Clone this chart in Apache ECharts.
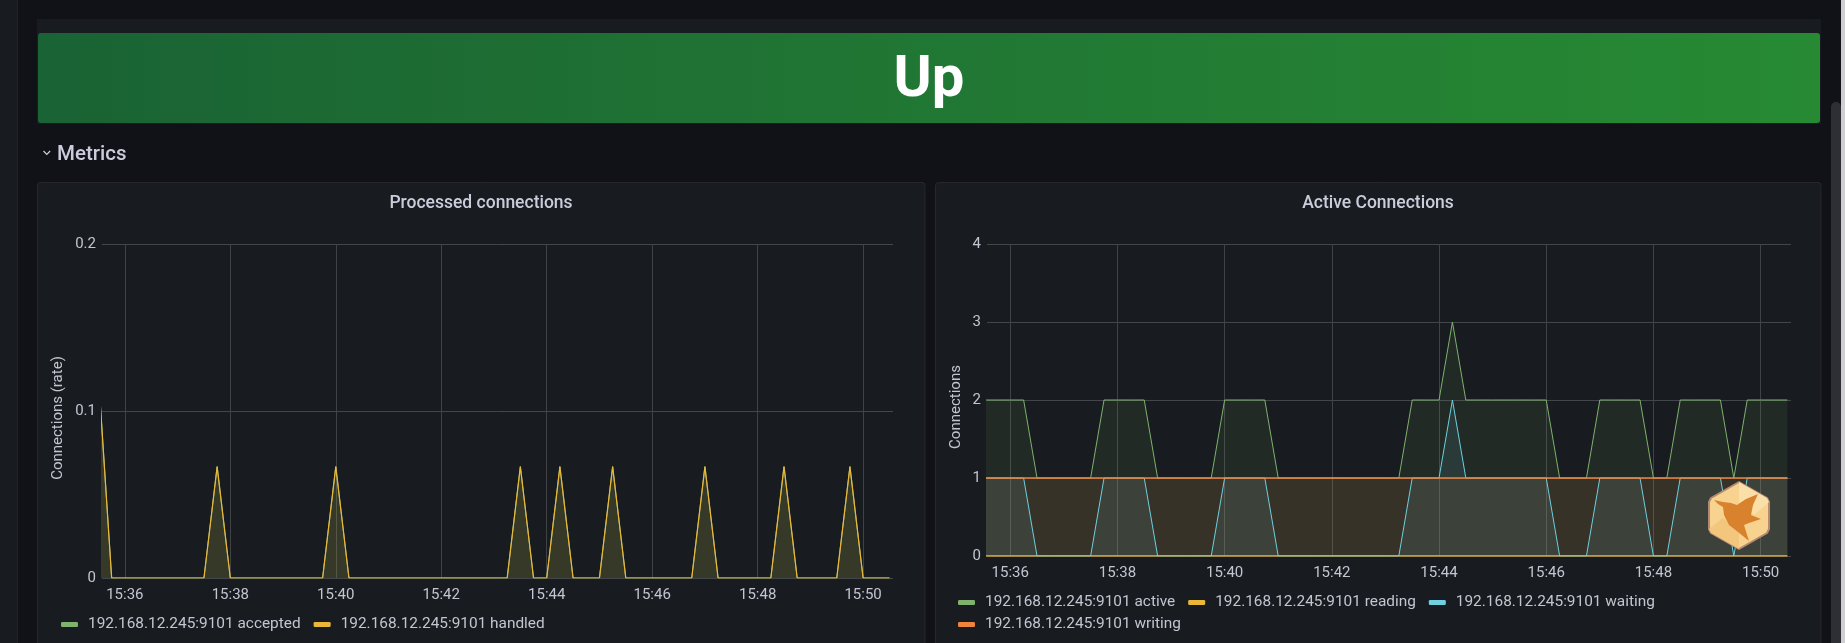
<!DOCTYPE html>
<html>
<head>
<meta charset="utf-8">
<title>Nginx connections</title>
<script src="https://cdn.jsdelivr.net/npm/echarts@6/dist/echarts.min.js"></script>
<style>
html, body { margin: 0; padding: 0; background: #111217; overflow: hidden; }
#main { width: 1845px; height: 643px; }
</style>
</head>
<body>
<div id="main"></div>
<script>
// sample times, one every 15s
var times = [
	"15:35:30", "15:35:45", "15:36:00", "15:36:15", "15:36:30", "15:36:45", "15:37:00", "15:37:15", "15:37:30", "15:37:45",
	"15:38:00", "15:38:15", "15:38:30", "15:38:45", "15:39:00", "15:39:15", "15:39:30", "15:39:45", "15:40:00", "15:40:15",
	"15:40:30", "15:40:45", "15:41:00", "15:41:15", "15:41:30", "15:41:45", "15:42:00", "15:42:15", "15:42:30", "15:42:45",
	"15:43:00", "15:43:15", "15:43:30", "15:43:45", "15:44:00", "15:44:15", "15:44:30", "15:44:45", "15:45:00", "15:45:15",
	"15:45:30", "15:45:45", "15:46:00", "15:46:15", "15:46:30", "15:46:45", "15:47:00", "15:47:15", "15:47:30", "15:47:45",
	"15:48:00", "15:48:15", "15:48:30", "15:48:45", "15:49:00", "15:49:15", "15:49:30", "15:49:45", "15:50:00", "15:50:15",
	"15:50:30"
];
var tickLabels = ["15:36", "15:38", "15:40", "15:42", "15:44", "15:46", "15:48", "15:50"];

// Processed connections
var accepted = [
	0.121, 0, 0, 0, 0, 0, 0, 0, 0, 0.0667,
	0, 0, 0, 0, 0, 0, 0, 0, 0.0667, 0,
	0, 0, 0, 0, 0, 0, 0, 0, 0, 0,
	0, 0, 0.0667, 0, 0, 0.0667, 0, 0, 0, 0.0667,
	0, 0, 0, 0, 0, 0, 0.0667, 0, 0, 0,
	0, 0, 0.0667, 0, 0, 0, 0, 0.0667, 0, 0,
	0
];
var handled = [
	0.121, 0, 0, 0, 0, 0, 0, 0, 0, 0.0667,
	0, 0, 0, 0, 0, 0, 0, 0, 0.0667, 0,
	0, 0, 0, 0, 0, 0, 0, 0, 0, 0,
	0, 0, 0.0667, 0, 0, 0.0667, 0, 0, 0, 0.0667,
	0, 0, 0, 0, 0, 0, 0.0667, 0, 0, 0,
	0, 0, 0.0667, 0, 0, 0, 0, 0.0667, 0, 0,
	0
];

// Active Connections
var active = [
	2, 2, 2, 2, 1, 1, 1, 1, 1, 2,
	2, 2, 2, 1, 1, 1, 1, 1, 2, 2,
	2, 2, 1, 1, 1, 1, 1, 1, 1, 1,
	1, 1, 2, 2, 2, 3, 2, 2, 2, 2,
	2, 2, 2, 1, 1, 1, 2, 2, 2, 2,
	1, 1, 2, 2, 2, 2, 1, 2, 2, 2,
	2
];
var reading = [
	0, 0, 0, 0, 0, 0, 0, 0, 0, 0,
	0, 0, 0, 0, 0, 0, 0, 0, 0, 0,
	0, 0, 0, 0, 0, 0, 0, 0, 0, 0,
	0, 0, 0, 0, 0, 0, 0, 0, 0, 0,
	0, 0, 0, 0, 0, 0, 0, 0, 0, 0,
	0, 0, 0, 0, 0, 0, 0, 0, 0, 0,
	0
];
var waiting = [
	1, 1, 1, 1, 0, 0, 0, 0, 0, 1,
	1, 1, 1, 0, 0, 0, 0, 0, 1, 1,
	1, 1, 0, 0, 0, 0, 0, 0, 0, 0,
	0, 0, 1, 1, 1, 2, 1, 1, 1, 1,
	1, 1, 1, 0, 0, 0, 1, 1, 1, 1,
	0, 0, 1, 1, 1, 1, 0, 1, 1, 1,
	1
];
var writing = [
	1, 1, 1, 1, 1, 1, 1, 1, 1, 1,
	1, 1, 1, 1, 1, 1, 1, 1, 1, 1,
	1, 1, 1, 1, 1, 1, 1, 1, 1, 1,
	1, 1, 1, 1, 1, 1, 1, 1, 1, 1,
	1, 1, 1, 1, 1, 1, 1, 1, 1, 1,
	1, 1, 1, 1, 1, 1, 1, 1, 1, 1,
	1
];

var GREEN = "#7EB26D", YELLOW = "#EAB839", CYAN = "#6ED0E0", ORANGE = "#EF843C";
var TEXT = "#c4c5d1", GRID_V = "#404246", GRID_H = "#43464b", PANEL = "#181b1f", BORDER = "#25272c";
var FONT = "Roboto";

function toSeconds(t) {
	var p = t.split(":");
	return p[0] * 3600 + p[1] * 60 + (p[2] ? +p[2] : 0);
}
function fromSeconds(s) {
	var h = Math.floor(s / 3600), m = Math.round((s - h * 3600) / 60);
	return h + ":" + (m < 10 ? "0" : "") + m;
}
var tickValues = tickLabels.map(toSeconds);
var X_MIN = toSeconds("15:35:34"), X_MAX = toSeconds("15:50:34");

function pairs(values) {
	return values.map(function(v, i) {
		return [toSeconds(times[i]), v];
	});
}

function lineSeries(name, values, color, idx, width) {
	return {
		name: name,
		type: "line",
		xAxisIndex: idx,
		yAxisIndex: idx,
		showSymbol: false,
		symbol: "none",
		animation: false,
		itemStyle: { color: color },
		lineStyle: { color: color, width: width || 1 },
		areaStyle: { color: color, opacity: 0.1 },
		data: pairs(values)
	};
}

function xAxis(idx) {
	return {
		type: "value",
		gridIndex: idx,
		min: X_MIN,
		max: X_MAX,
		axisLine: { show: false },
		axisTick: { show: false, customValues: tickValues },
		splitLine: { show: true, lineStyle: { color: GRID_V, width: 1 } },
		axisLabel: {
			customValues: tickValues,
			color: TEXT,
			fontFamily: FONT,
			fontSize: 15,
			margin: 10,
			formatter: fromSeconds
		}
	};
}

function yAxis(idx, max, interval, name, gap) {
	return {
		type: "value",
		gridIndex: idx,
		min: 0,
		max: max,
		interval: interval,
		name: name,
		nameLocation: "middle",
		nameGap: gap,
		nameTextStyle: { color: TEXT, fontFamily: FONT, fontSize: 15, padding: [0, 14, 0, 0] },
		axisLine: { show: false },
		axisTick: { show: false },
		splitLine: { show: true, lineStyle: { color: GRID_H, width: 1 } },
		axisLabel: { color: TEXT, fontFamily: FONT, fontSize: 15, margin: 6 }
	};
}

function legend(names, left, top) {
	return {
		data: names,
		left: left,
		top: top,
		orient: "horizontal",
		icon: "roundRect",
		itemWidth: 17,
		itemHeight: 5,
		itemGap: 13,
		selectedMode: false,
		textStyle: { color: TEXT, fontFamily: FONT, fontSize: 15.4, padding: [0, 0, 0, 5] }
	};
}

// watermark hexagon and bird, in a 60x67 box
var hexagon = [[30, 0], [58, 16], [60, 20], [60, 47], [58, 51], [30, 67], [2, 51], [0, 47], [0, 20], [2, 16]];
var bird = [[5, 18], [14, 20], [22, 21], [28, 23], [37, 17], [49, 12], [44, 23], [42, 33], [52, 37], [40, 41], [35, 43], [40, 59], [29, 50], [20, 43], [15, 33], [14, 25], [9, 22]];
function moved(points, dx, dy) {
	return points.map(function(p) { return [p[0] + dx, p[1] + dy]; });
}

var graphics = [
	// page furniture
	{ type: "rect", z: -20, shape: { x: 0, y: 0, width: 17, height: 643 }, style: { fill: "#181b1f" } },
	{ type: "rect", z: -20, shape: { x: 17, y: 0, width: 1, height: 643 }, style: { fill: "#202226" } },
	{ type: "rect", z: -20, shape: { x: 1831, y: 102, width: 10, height: 560, r: 5 }, style: { fill: "#2e2f35" } },
	{ type: "rect", z: -20, shape: { x: 1841, y: 0, width: 4, height: 643 }, style: { fill: "#cfcfcf" } },
	// stat panel
	{ type: "rect", z: -20, shape: { x: 37, y: 19, width: 1784, height: 105 }, style: { fill: PANEL } },
	{
		type: "rect", z: -19,
		shape: { x: 38, y: 33, width: 1782, height: 90, r: 3 },
		style: {
			fill: new echarts.graphic.LinearGradient(0, 0, 1, 0, [
				{ offset: 0, color: "#1a6334" },
				{ offset: 1, color: "#278a33" }
			])
		}
	},
	{
		type: "text", z: -18, x: 929, y: 81,
		style: { text: "Up", fill: "#ffffff", font: "700 58px " + FONT, textAlign: "center", textVerticalAlign: "middle" }
	},
	// row title
	{ type: "polyline", z: -18, shape: { points: [[43.5, 151], [46.8, 154.5], [50.1, 151]] }, style: { stroke: "#ccccdc", lineWidth: 1.2, fill: null } },
	{
		type: "text", z: -18, x: 57, y: 155,
		style: { text: "Metrics", fill: "#ccccdc", font: "500 20.5px " + FONT, textVerticalAlign: "middle" }
	},
	// chart panels
	{ type: "rect", z: -20, shape: { x: 37.5, y: 182.5, width: 887.5, height: 480, r: 3 }, style: { fill: PANEL, stroke: BORDER, lineWidth: 1 } },
	{ type: "rect", z: -20, shape: { x: 935.5, y: 182.5, width: 885.5, height: 480, r: 3 }, style: { fill: PANEL, stroke: BORDER, lineWidth: 1 } },
	// watermark
	{ type: "polygon", z: 50, shape: { points: moved(hexagon, 1709, 482) }, style: { fill: "#f7d38f", stroke: "#b68a72", lineWidth: 2, lineJoin: "round" } },
	{ type: "polygon", z: 51, shape: { points: moved([[30, 0], [58, 16], [60, 20], [45, 33], [30, 20]], 1709, 482) }, style: { fill: "#fbdfa8" } },
	{ type: "polygon", z: 51, shape: { points: moved([[0, 47], [2, 51], [30, 67], [30, 50], [14, 36]], 1709, 482) }, style: { fill: "#f3c67d" } },
	{ type: "polygon", z: 52, shape: { points: moved(bird, 1709, 482) }, style: { fill: "#d9822e" } }
];

var option = {
	backgroundColor: "#111217",
	animation: false,
	graphic: graphics,
	title: [
		{ text: "Processed connections", left: 476, top: 199, textAlign: "center", textVerticalAlign: "middle",
			textStyle: { color: "#ccccdc", fontFamily: FONT, fontSize: 17.5, fontWeight: 500 } },
		{ text: "Active Connections", left: 1373, top: 199, textAlign: "center", textVerticalAlign: "middle",
			textStyle: { color: "#ccccdc", fontFamily: FONT, fontSize: 17.5, fontWeight: 500 } }
	],
	grid: [
		{ left: 102, top: 244, width: 791, height: 334 },
		{ left: 987, top: 244, width: 804, height: 312 }
	],
	xAxis: [xAxis(0), xAxis(1)],
	yAxis: [
		yAxis(0, 0.2, 0.1, "Connections (rate)", 36),
		yAxis(1, 4, 1, "Connections", 23)
	],
	legend: [
		legend(["192.168.12.245:9101 accepted", "192.168.12.245:9101 handled"], 56, 612),
		legend(["192.168.12.245:9101 active", "192.168.12.245:9101 reading", "192.168.12.245:9101 waiting"], 953, 590),
		legend(["192.168.12.245:9101 writing"], 953, 612)
	],
	series: [
		lineSeries("192.168.12.245:9101 accepted", accepted, GREEN, 0),
		lineSeries("192.168.12.245:9101 handled", handled, YELLOW, 0, 1.2),
		lineSeries("192.168.12.245:9101 active", active, GREEN, 1),
		lineSeries("192.168.12.245:9101 reading", reading, YELLOW, 1, 1.5),
		lineSeries("192.168.12.245:9101 waiting", waiting, CYAN, 1),
		lineSeries("192.168.12.245:9101 writing", writing, ORANGE, 1, 1.5)
	]
};

var chart = echarts.init(document.getElementById("main"));
chart.setOption(option);
</script>
</body>
</html>
